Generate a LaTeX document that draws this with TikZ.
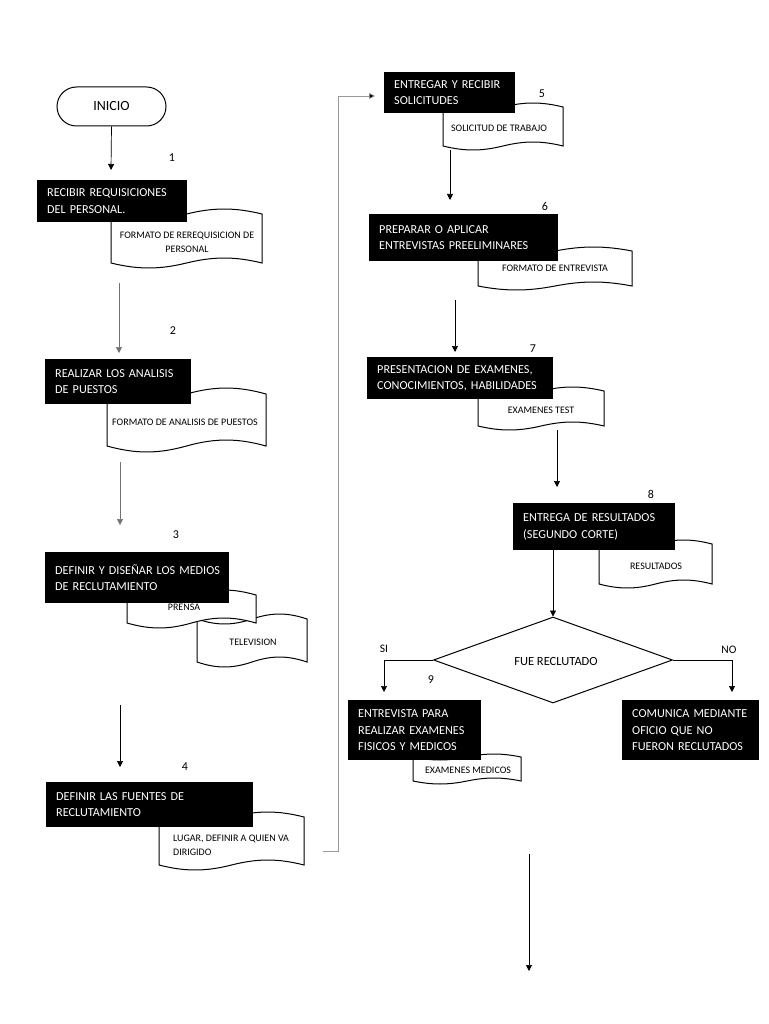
\documentclass[tikz,border=0pt]{standalone}
\usepackage{fontspec}
\setmainfont{Carlito}
\usetikzlibrary{arrows.meta,shapes.geometric}
\newcommand\tapedoc[5]{%
  \pgfmathsetmacro\tw{#3-#1}%
  \draw[docline] (#1,{#2+#5})
    .. controls ({#1+0.18*\tw},{#2+2.33*#5}) and ({#1+0.32*\tw},{#2+2.33*#5}) .. ({#1+0.5*\tw},{#2+#5})
    .. controls ({#1+0.68*\tw},{#2-0.33*#5}) and ({#1+0.82*\tw},{#2-0.33*#5}) .. (#3,{#2+#5})
    -- (#3,{#4-#5})
    .. controls ({#1+0.82*\tw},{#4-2.33*#5}) and ({#1+0.68*\tw},{#4-2.33*#5}) .. ({#1+0.5*\tw},{#4-#5})
    .. controls ({#1+0.32*\tw},{#4+0.33*#5}) and ({#1+0.18*\tw},{#4+0.33*#5}) .. (#1,{#4-#5})
    -- cycle;}
\newcommand\oneline[1]{\mbox{#1}}
\tikzset{
  docline/.style={draw=black, fill=white, line width=1pt},
  doctext/.style={font=\fontsize{10}{14}\selectfont, align=center, inner sep=0pt},
  blk/.style={fill=black, text=white, font=\fontsize{12.2}{16.5}\selectfont, align=left,
    inner xsep=10pt, inner ysep=0pt, anchor=north west},
  num/.style={font=\fontsize{12}{14}\selectfont, inner sep=0pt},
  arr/.style={-{Triangle[length=6pt,width=6pt]}, line width=0.7pt, draw=black},
  garr/.style={-{Triangle[length=6pt,width=6pt]}, line width=0.7pt, draw=black!55},
}
\begin{document}
\begin{tikzpicture}[x=1pt,y=-1pt]
\useasboundingbox (0,0) rectangle (768,1024);

% ---------- documents ----------
\tapedoc{111}{209}{262}{268}{5}
\node[doctext] (d1) at (187,242) {FORMATO DE REREQUISICION DE\\PERSONAL};
\tapedoc{107}{388}{266}{452}{6}
\node[doctext] (d2) at (185,422) {FORMATO DE ANALISIS DE PUESTOS};
\tapedoc{197}{614}{307}{667}{5}
\node[doctext] (d4) at (253,642) {TELEVISION};
\tapedoc{127}{590}{256}{628}{5}
\node[doctext] (d3) at (184,607) {PRENSA};
\tapedoc{159}{812}{304}{870}{5}
\node[doctext, align=left, anchor=west] (d5) at (173,845) {LUGAR, DEFINIR A QUIEN VA\\DIRIGIDO};
\tapedoc{443}{103}{563}{150}{4}
\node[doctext] (d6) at (499,128) {SOLICITUD DE TRABAJO};
\tapedoc{478}{247}{632}{290}{4}
\node[doctext] (d7) at (555,268) {FORMATO DE ENTREVISTA};
\tapedoc{478}{387}{604}{430}{4}
\node[doctext] (d8) at (541,410) {EXAMENES TEST};
\tapedoc{599}{540}{712}{588}{4}
\node[doctext] (d9) at (656,566) {RESULTADOS};
\tapedoc{413}{754}{521}{784}{3}
\node[doctext] (d10) at (468,770) {EXAMENES MEDICOS};

% ---------- start ----------
\node[draw, line width=1pt, rounded corners=19.5pt, minimum width=109pt, minimum height=39pt,
  font=\fontsize{14}{16}\selectfont] (inicio) at (111.5,106.5) {INICIO};

% ---------- black boxes ----------
\node[blk, text width=130pt, minimum height=42pt] (b1) at (37,180) {\oneline{RECIBIR REQUISICIONES}\\\oneline{DEL PERSONAL.}};
\node[blk, text width=126pt, minimum height=45pt] (b2) at (45,359) {\oneline{REALIZAR LOS ANALISIS}\\\oneline{DE PUESTOS}};
\node[blk, text width=164pt, minimum height=51pt] (b3) at (45,552) {\oneline{DEFINIR Y DISEÑAR LOS MEDIOS}\\\oneline{DE RECLUTAMIENTO}};
\node[blk, text width=187pt, minimum height=45pt] (b4) at (46,782) {\oneline{DEFINIR LAS FUENTES DE}\\\oneline{RECLUTAMIENTO}};
\node[blk, text width=111pt, minimum height=41pt] (b5) at (384,72) {\oneline{ENTREGAR Y RECIBIR}\\\oneline{SOLICITUDES}};
\node[blk, text width=169pt, minimum height=47pt] (b6) at (369,214) {\oneline{PREPARAR O APLICAR}\\\oneline{ENTREVISTAS PREELIMINARES}};
\node[blk, text width=166pt, minimum height=42pt] (b7) at (367,357) {\oneline{PRESENTACION DE EXAMENES,}\\\oneline{CONOCIMIENTOS, HABILIDADES}};
\node[blk, text width=142pt, minimum height=47pt] (b8) at (513,503) {\oneline{ENTREGA DE RESULTADOS}\\\oneline{(SEGUNDO CORTE)}};
\node[blk, text width=113pt, minimum height=60pt] (b9) at (348,700) {\oneline{ENTREVISTA PARA}\\\oneline{REALIZAR EXAMENES}\\\oneline{FISICOS Y MEDICOS}};
\node[blk, text width=117pt, minimum height=60pt] (bno) at (622,700) {\oneline{COMUNICA MEDIANTE}\\\oneline{OFICIO QUE NO}\\\oneline{FUERON RECLUTADOS}};

% ---------- decision ----------
\node[diamond, draw, line width=1pt, minimum width=239pt, minimum height=86pt, inner sep=0pt] (dia) at (553,660) {};
\node[font=\fontsize{12.5}{14}\selectfont, inner sep=0pt] (diat) at (556,661) {FUE RECLUTADO};

% ---------- numbers / labels ----------
\node[num] (n1) at (172,158) {1};
\node[num] (n2) at (173,331) {2};
\node[num] (n3) at (176,535) {3};
\node[num] (n4) at (185,767) {4};
\node[num] (n5) at (542,94) {5};
\node[num] (n6) at (545,206) {6};
\node[num] (n7) at (533,349) {7};
\node[num] (n8) at (651,494) {8};
\node[num] (n9) at (431,680) {9};
\node[num, font=\fontsize{11.5}{13}\selectfont] (si) at (384,649) {SI};
\node[num, font=\fontsize{11.5}{13}\selectfont] (no) at (729,650) {NO};

% ---------- connector coordinates ----------
\coordinate (a1e) at (111,170);
\coordinate (a2s) at (119,283);  \coordinate (a2e) at (119,353);
\coordinate (a3s) at (120,462);  \coordinate (a3e) at (120,525);
\coordinate (a4s) at (120,705);  \coordinate (a4e) at (120,767);
\coordinate (lp1) at (323,851);  \coordinate (lp2) at (338,851);
\coordinate (lp3) at (338,96);   \coordinate (lp4) at (375,96);
\coordinate (a6s) at (450,150);  \coordinate (a6e) at (450,200);
\coordinate (a7s) at (455,300);  \coordinate (a7e) at (455,352);
\coordinate (a8s) at (557,430);  \coordinate (a8e) at (557,487);
\coordinate (a9s) at (553,550);
\coordinate (sic) at (384,660);  \coordinate (sie) at (384,692);
\coordinate (noc) at (732,660);  \coordinate (noe) at (732,692);
\coordinate (fs) at (529,854);   \coordinate (fe) at (529,971);

% ---------- connectors ----------
\draw[arr] (inicio.south) -- (a1e);
\draw[garr] (a2s) -- (a2e);
\draw[garr] (a3s) -- (a3e);
\draw[arr] (a4s) -- (a4e);
\draw[line width=0.8pt, draw=black!40] (lp1) -- (lp2) -- (lp3) -- ([xshift=-6pt]lp4);
\draw[arr, draw=black!40, -{Triangle[length=6pt,width=6pt,fill=black]}] ([xshift=-7pt]lp4) -- (lp4);
\draw[arr] (a6s) -- (a6e);
\draw[arr] (a7s) -- (a7e);
\draw[arr] (a8s) -- (a8e);
\draw[arr] (a9s) -- (dia.north);
\draw[arr] (dia.west) -- (sic) -- (sie);
\draw[arr] (dia.east) -- (noc) -- (noe);
\draw[arr] (fs) -- (fe);
\end{tikzpicture}
\end{document}
